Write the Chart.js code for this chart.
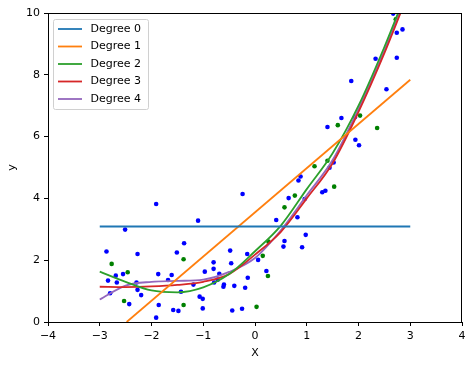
<!DOCTYPE html>
<html>
<head>
<meta charset="utf-8">
<script src="https://cdn.jsdelivr.net/npm/chart.js@4.4.0/dist/chart.umd.min.js"></script>
<style>
  html, body { margin: 0; padding: 0; background: #fff; }
  #wrap { width: 474px; height: 366px; }
</style>
</head>
<body>
<div id="wrap"><canvas id="chart" width="474" height="366"></canvas></div>
<script>
// training points (blue)
const trainX = [-1.91, -2.51, -1.10, -2.87, -2.27, -1.37, -1.51, -0.48, -2.84, -2.69,
  -2.67, -2.55, -2.80, -2.43, -2.29, -2.27, -2.20, -1.87, -1.86, -1.91,
  -1.61, -1.68, -1.43, -1.58, -1.48, -1.19, -0.97, -1.07, -1.01, -1.01,
  -0.80, -0.80, -0.79, -0.72, -0.69, -0.60, -0.61, -0.46, -0.40, -0.44,
  -0.24, 0.65, 0.96, 1.30, 1.36, 0.41, 0.82, 0.98, 0.57, 0.55,
  0.91, -0.15, 0.06, 0.22, -0.14, -0.19, -0.25, 2.67, 2.74, 2.85,
  2.33, 2.74, 1.86, 2.54, 1.67, 1.40, 1.93, 1.94, 2.01, 1.52,
  1.44, 0.88, 0.84];
const trainY = [3.82, 2.99, 3.28, 2.28, 2.20, 2.55, 2.25, 2.31, 1.34, 1.50,
  1.28, 1.55, 0.93, 0.58, 1.28, 1.04, 0.87, 1.55, 0.55, 0.14,
  1.52, 1.36, 0.98, 0.39, 0.36, 1.21, 1.63, 0.82, 0.75, 0.44,
  1.93, 1.72, 1.28, 1.37, 1.56, 1.21, 1.14, 1.90, 1.17, 0.37,
  4.14, 4.01, 3.98, 4.20, 4.25, 3.30, 3.39, 2.82, 2.62, 2.44,
  2.42, 2.20, 2.01, 1.65, 1.43, 1.11, 0.43, 9.98, 9.36, 9.47,
  8.52, 8.55, 7.80, 7.53, 6.60, 6.31, 6.63, 5.90, 5.72, 5.16,
  4.99, 4.71, 4.58];

// test points (green)
const testX = [-2.77, -2.46, -2.53, -1.38, -1.38, 0.77, 0.57, 1.53, 0.26, 0.15,
  0.25, 0.03, 2.72, 2.03, 1.60, 2.36, 1.15, 1.40];
const testY = [1.88, 1.61, 0.68, 2.03, 0.55, 4.09, 3.71, 4.38, 2.60, 2.14,
  1.49, 0.49, 9.80, 6.68, 6.37, 6.28, 5.04, 5.22];

// fitted curves
const deg0X = [-3, 3];
const deg0Y = [3.09, 3.09];
const deg1X = [-2.48, 3];
const deg1Y = [0, 7.84];
const fitX = [-3, -2.5, -2, -1.5, -1, -0.5, 0, 0.5, 1, 1.5, 2, 2.5, 3];
const deg2Y = [1.63, 1.30, 1.02, 0.96, 1.12, 1.55, 2.29, 3.12, 4.30, 5.46, 7.00, 8.90, 11.0];
const deg3Y = [1.14, 1.13, 1.15, 1.20, 1.30, 1.55, 2.18, 2.92, 4.00, 5.14, 6.80, 8.70, 10.8];
const deg4Y = [0.73, 1.18, 1.30, 1.33, 1.37, 1.62, 2.07, 2.97, 4.10, 5.24, 6.90, 8.78, 10.9];

const lineNames = ['Degree 0', 'Degree 1', 'Degree 2', 'Degree 3', 'Degree 4'];
const lineColors = ['#1f77b4', '#ff7f0e', '#2ca02c', '#d62728', '#9467bd'];

function pts(xs, ys) {
  return xs.map((x, i) => ({ x: x, y: ys[i] }));
}

function minus(v) {
  return String(v).replace('-', '\u2212');
}

const lineSets = [
  pts(deg0X, deg0Y), pts(deg1X, deg1Y),
  pts(fitX, deg2Y), pts(fitX, deg3Y), pts(fitX, deg4Y)
];

const datasets = [
  { label: 'train', data: pts(trainX, trainY), backgroundColor: '#0000ff', borderWidth: 0,
    pointRadius: 2.3, showLine: false, order: 10, clip: 0 },
  { label: 'test', data: pts(testX, testY), backgroundColor: '#008000', borderWidth: 0,
    pointRadius: 2.3, showLine: false, order: 10, clip: 0 }
];
lineSets.forEach((d, i) => {
  datasets.push({
    label: lineNames[i], data: d, showLine: true, pointRadius: 0,
    borderColor: lineColors[i], borderWidth: 1.8, tension: 0.4,
    cubicInterpolationMode: 'monotone', order: 1, clip: 0
  });
});

const frameAndLegend = {
  id: 'frameAndLegend',
  afterDraw(chart) {
    const ctx = chart.ctx;
    const a = chart.chartArea;
    ctx.save();
    ctx.strokeStyle = '#000';
    ctx.lineWidth = 1;
    ctx.strokeRect(a.left + 0.5, a.top + 0.5, a.right - a.left - 1, a.bottom - a.top);

    // legend box inside the plot
    const bx = a.left + 5.5, by = a.top + 6.5, bw = 95, bh = 90;
    ctx.fillStyle = 'rgba(255,255,255,0.8)';
    ctx.strokeStyle = '#d0d0d0';
    ctx.beginPath();
    ctx.roundRect(bx, by, bw, bh, 2);
    ctx.fill();
    ctx.stroke();
    ctx.font = '11px "DejaVu Sans"';
    ctx.textBaseline = 'middle';
    lineNames.forEach((name, i) => {
      const y = by + 9.5 + i * 17.5;
      ctx.strokeStyle = lineColors[i];
      ctx.lineWidth = 1.8;
      ctx.beginPath();
      ctx.moveTo(bx + 4.5, y);
      ctx.lineTo(bx + 28.5, y);
      ctx.stroke();
      ctx.fillStyle = '#000';
      ctx.fillText(name, bx + 37, y);
    });
    ctx.restore();
  }
};

const tickFont = { family: 'DejaVu Sans', size: 11 };

new Chart(document.getElementById('chart'), {
  type: 'scatter',
  data: { datasets: datasets },
  options: {
    responsive: false,
    animation: false,
    devicePixelRatio: 1,
    layout: { padding: { left: 6, right: 12, top: 13, bottom: 6 } },
    plugins: {
      legend: { display: false },
      tooltip: { enabled: false }
    },
    scales: {
      x: {
        type: 'linear', min: -4, max: 4,
        ticks: { stepSize: 1, color: '#000', font: tickFont, padding: 4, callback: v => minus(v) },
        grid: { display: true, drawOnChartArea: false, drawTicks: true, tickLength: 4, color: '#000' },
        border: { display: false },
        title: { display: true, text: 'X', color: '#000', font: tickFont, padding: { top: 1, bottom: 0 } },
        afterFit: s => { s.height = 38; }
      },
      y: {
        type: 'linear', min: 0, max: 10,
        ticks: { stepSize: 2, color: '#000', font: tickFont, padding: 4, callback: v => minus(v) },
        grid: { display: true, drawOnChartArea: false, drawTicks: true, tickLength: 4, color: '#000' },
        border: { display: false },
        title: { display: true, text: 'y', color: '#000', font: tickFont, padding: { top: 0, bottom: 0 } },
        afterFit: s => { s.width = 42; }
      }
    }
  },
  plugins: [frameAndLegend]
});
</script>
</body>
</html>
